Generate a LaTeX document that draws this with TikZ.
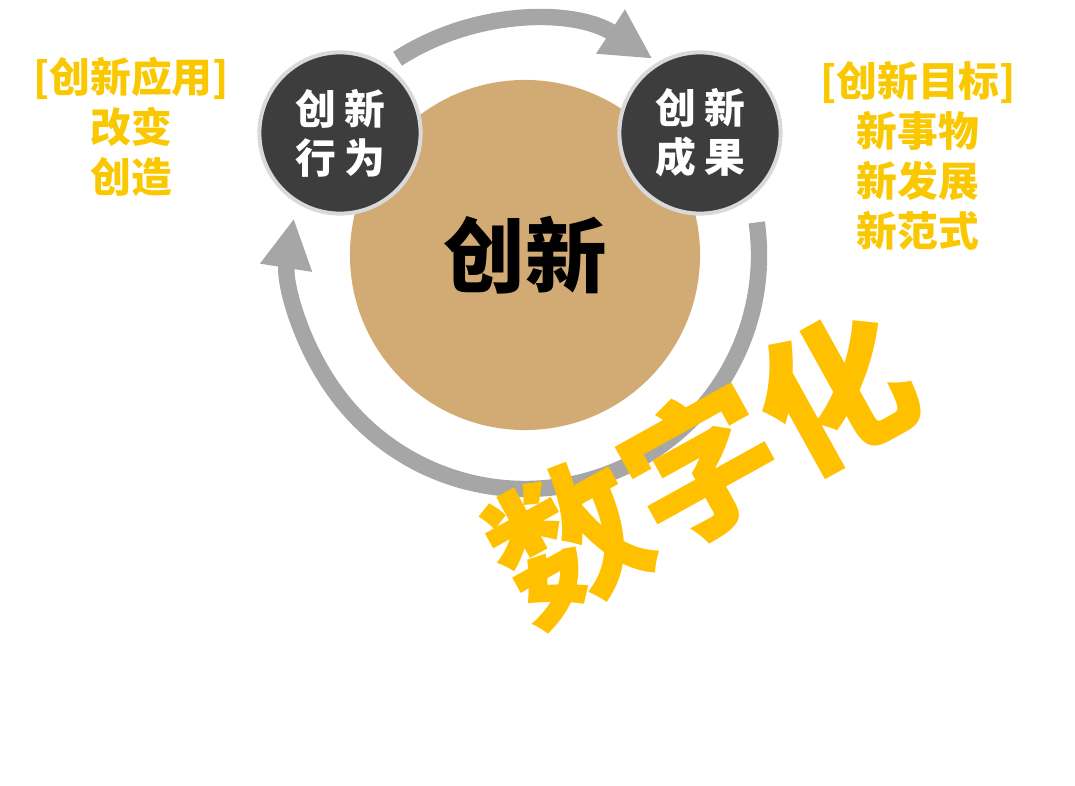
\documentclass[tikz,border=0pt]{standalone}
\usepackage{fontspec}
\setmainfont{Noto Sans CJK SC}
\usepackage{tikz}
\usetikzlibrary{arrows.meta}
\definecolor{coretan}{RGB}{210,170,115}
\definecolor{ringgray}{RGB}{166,166,166}
\definecolor{hubdark}{RGB}{61,61,61}
\definecolor{hubrim}{RGB}{217,217,217}
\definecolor{notegold}{RGB}{250,200,0}
\definecolor{digigold}{RGB}{255,192,0}
\tikzset{
every picture/.style={very thick}
}
\tikzset{
  ring/.style={line width=0.41cm, color=ringgray, -{Triangle[width=1.225cm,length=1.25cm]}},
  hub/.style={circle, fill=hubdark, draw=hubrim, line width=0.1cm, minimum size=4.03cm,
    inner sep=0pt, text=white, align=center, font=\bfseries\fontsize{29}{35}\selectfont},
  note/.style={text=notegold, align=center, font=\bfseries\fontsize{29}{35.6}\selectfont},
  digi/.style={text=digigold, rotate=29, font=\bfseries\fontsize{108}{120}\selectfont}
}

\begin{document}
\begin{tikzpicture}[x=0.025cm, y=0.025cm]
    \useasboundingbox (0,0) rectangle (1075,-786);
    \node[circle, fill=coretan, minimum size=8.75cm, inner sep=0pt,
      font=\bfseries\fontsize{58}{60}\selectfont] (core) at (525,-255) {创新};
    % ring around the core
    \coordinate (topstart) at ([shift={(123:234)}]core.center);
    \coordinate (loopstart) at ([shift={(8:234)}]core.center);
    \draw[ring] (topstart) arc[start angle=123, end angle=57, radius=234];
    \draw[ring] (loopstart) arc[start angle=8, end angle=-189, radius=234];
    \node[hub] (act) at (340,-133) {创\hspace{6pt}新\\行\hspace{6pt}为};
    \node[hub] (result) at (700,-133) {创\hspace{6pt}新\\成\hspace{6pt}果};
    \node[note] (apply) at (131,-127) {[创新应用]\\改变\\创造};
    \node[note] (goal) at (918,-156) {[创新目标]\\新事物\\新发展\\新范式};
    \node[digi] (digital) at (702,-466) {数字化};
\end{tikzpicture}
\end{document}
